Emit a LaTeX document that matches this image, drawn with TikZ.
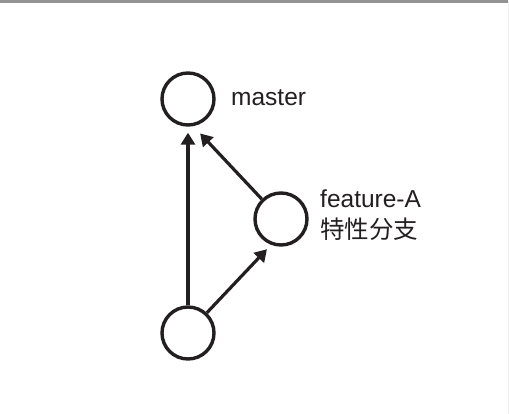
\documentclass[tikz,border=0pt]{standalone}
\usepackage{fontspec}
\setmainfont{Liberation Sans}
\newfontfamily\cjk{Noto Sans CJK SC}
\usetikzlibrary{arrows.meta}
\definecolor{ink}{HTML}{231F20}
\definecolor{rule}{HTML}{939393}
\begin{document}
\begin{tikzpicture}[x=1pt,y=-1pt,
  commit/.style={circle,draw=ink,line width=3.4pt,minimum size=52pt,inner sep=0pt},
  arr/.style={draw=ink,line width=3.2pt,-{Triangle[length=12pt,width=14pt]}},
  lbl/.style={text=ink,font=\fontsize{24.5}{31}\selectfont,anchor=base west,inner sep=0pt,align=left}]
\useasboundingbox (0,0) rectangle (509,414);
\fill[white] (0,0) rectangle (509,414);
\draw[rule,line width=2.5pt] (0,1.5) -- (509,1.5);
\draw[gray!12,line width=1pt] (508,0) -- (508,414);
\node[commit] (master) at (188,99) {};
\node[commit] (feat) at (281,219) {};
\node[commit] (base) at (188,333) {};
\node[lbl] (lm) at (231,106) {master};
\node[lbl,anchor=north west] (lf) at (320,190) {feature-A\\{\cjk 特性分支}};
\draw[arr,shorten >=6pt] (base.90) -- (master.270);
\draw[arr,shorten >=10pt] (feat.134) -- (master.281);
\draw[arr,shorten >=6pt] (base.47) -- (feat.249);
\end{tikzpicture}
\end{document}
